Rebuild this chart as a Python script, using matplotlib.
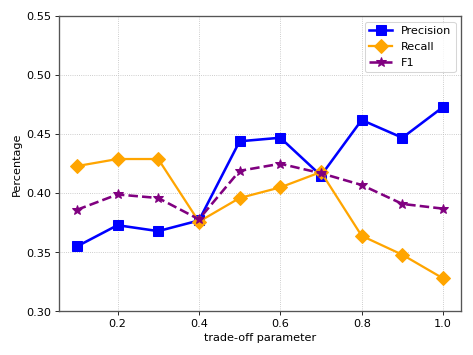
import numpy as np
import matplotlib.pyplot as plt

x = [0.1, 0.2, 0.3, 0.4, 0.5, 0.6, 0.7, 0.8, 0.9, 1.0]
precision = [0.355, 0.373, 0.368, 0.377, 0.444, 0.447, 0.415, 0.462, 0.447, 0.473]
recall = [0.423, 0.429, 0.429, 0.376, 0.396, 0.405, 0.418, 0.364, 0.348, 0.328]
f1 = [0.386, 0.399, 0.396, 0.378, 0.419, 0.425, 0.417, 0.407, 0.391, 0.387]

plt.rcParams['font.size'] = 11
fig, ax = plt.subplots(figsize=(6.4, 4.8), dpi=74)
ax.plot(x, precision, color='blue', marker='s', markersize=10, linewidth=2.5, label='Precision')
ax.plot(x, recall, color='orange', marker='D', markersize=9, linewidth=2.2, label='Recall')
ax.plot(x, f1, color='purple', marker='*', markersize=10, linewidth=2.5, linestyle='--', label='F1')
ax.set_ylim(0.30, 0.55)
ax.set_xlabel('trade-off parameter')
ax.set_ylabel('Percentage')
ax.grid(True, linestyle=':', color='#bbbbbb')
for s in ax.spines.values():
    s.set_color('#555555')
    s.set_linewidth(1.3)
ax.legend(loc='upper right')
fig.tight_layout()
plt.savefig('out.png')
